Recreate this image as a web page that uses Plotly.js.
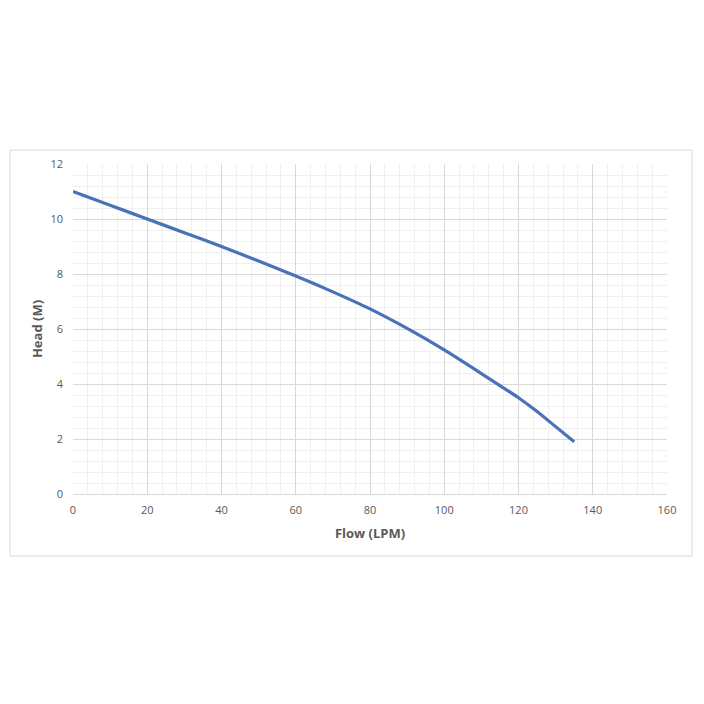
<!DOCTYPE html>
<html>
<head>
<meta charset="utf-8">
<script src="https://cdn.plot.ly/plotly-3.0.1.min.js"></script>
<style>html,body{margin:0;padding:0;background:#fff;}#chart{width:704px;height:704px;}</style>
</head>
<body>
<div id="chart"></div>
<script>
const flow = [0, 10, 20, 30, 40, 50, 60, 70, 80, 90, 100, 110, 120, 125, 130, 135];
const head = [11.0, 10.5, 10.0, 9.5, 9.0, 8.47, 7.93, 7.35, 6.73, 6.02, 5.24, 4.38, 3.5, 3.0, 2.45, 1.9];
const xTicks = [0, 20, 40, 60, 80, 100, 120, 140, 160];
const yTicks = [0, 2, 4, 6, 8, 10, 12];

const trace = {
  x: flow, y: head, type: 'scatter', mode: 'lines',
  line: {color: '#4a72b8', width: 3.2, shape: 'spline', smoothing: 0.6},
  hoverinfo: 'skip'
};
const tickFont = {family: 'Open Sans, Liberation Sans, sans-serif', size: 11, color: '#595959'};
const layout = {
  width: 704, height: 704,
  margin: {l: 73, r: 37, t: 164, b: 210},
  paper_bgcolor: '#ffffff', plot_bgcolor: '#ffffff',
  showlegend: false,
  xaxis: {
    range: [0, 160], tickvals: xTicks, ticktext: xTicks.map(String),
    showgrid: true, gridcolor: '#d9d9d9', gridwidth: 1,
    minor: {dtick: 4, tick0: 0, showgrid: true, gridcolor: '#f0f0f0', gridwidth: 1},
    zeroline: false, showline: true, linecolor: '#d9d9d9', linewidth: 1,
    ticks: '', ticklen: 0, tickfont: tickFont, ticklabelstandoff: 6,
    title: {text: '<b>Flow (LPM)</b>', font: {family: 'Open Sans, Liberation Sans, sans-serif', size: 13, color: '#595959'}, standoff: 12}
  },
  yaxis: {
    range: [0, 12], tickvals: yTicks, ticktext: yTicks.map(String),
    showgrid: true, gridcolor: '#d9d9d9', gridwidth: 1,
    minor: {dtick: 0.4, tick0: 0, showgrid: true, gridcolor: '#f0f0f0', gridwidth: 1},
    zeroline: false, showline: false,
    ticks: '', ticklen: 0, tickfont: tickFont, ticklabelstandoff: 9,
    title: {text: '<b>Head (M)</b>', font: {family: 'Open Sans, Liberation Sans, sans-serif', size: 13, color: '#595959'}, standoff: 4}
  },
  shapes: [{
    type: 'rect', xref: 'paper', yref: 'paper',
    x0: -0.106, x1: 1.042, y0: -0.188, y1: 1.042,
    line: {color: '#d9d9d9', width: 1}, fillcolor: 'rgba(0,0,0,0)', layer: 'below'
  }]
};
Plotly.newPlot('chart', [trace], layout, {staticPlot: true, displayModeBar: false});
</script>
</body>
</html>
